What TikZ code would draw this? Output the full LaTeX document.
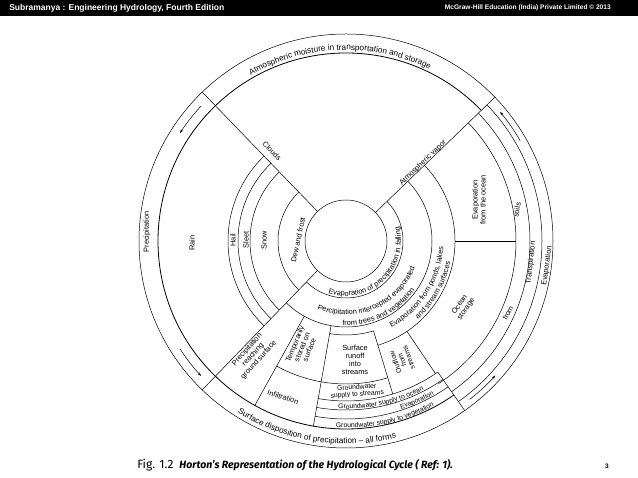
\documentclass[tikz,border=0pt]{standalone}
\usepackage{fontspec}
\setmainfont{Liberation Sans}
\newfontfamily\capfont{Fira Sans}
\usetikzlibrary{calc,decorations.text,arrows.meta}
\newcommand\fa{\fontsize{7.4}{7.8}\selectfont}
\newcommand\fb{\fontsize{6.8}{7}\selectfont}
\newcommand\fc{\fontsize{8.2}{8.5}\selectfont}
\newcommand\harc[3]{\draw ($(C)+(#2:#1)$) arc[start angle=#2,end angle=#3,radius=#1];}
\newcommand\hrad[3]{\draw ($(C)+(#1:#2)$) -- ($(C)+(#1:#3)$);}
\newcommand\ctext[5]{\path[decorate,decoration={text along path,text align=center,text={|#5|#4}}] ($(C)+(#2:#1)$) arc[start angle=#2,end angle=#3,radius=#1];}
\begin{document}
\begin{tikzpicture}[x=1pt,y=1pt,line width=0.5pt,
  lbl/.style={font=\fa,align=center,inner sep=0pt},
  arr/.style={-{Stealth[length=4pt,width=2.5pt]}}]
\useasboundingbox (0,0) rectangle (638,478);
\fill[white] (0,0) rectangle (638,478);
% header
\fill[black] (0,462) rectangle (638,478);
\node[anchor=west,text=white,font=\bfseries\fontsize{8.5}{9}\selectfont,inner sep=0pt] (h1) at (9,470) {Subramanya : Engineering Hydrology, Fourth Edition};
\node[anchor=east,text=white,font=\bfseries\fontsize{6.6}{7}\selectfont,inner sep=0pt] (h2) at (611,470) {McGraw-Hill Education (India) Private Limited © 2013};
% caption
\node[anchor=west,inner sep=0pt,font=\capfont\fontsize{12}{13}\selectfont] (cap) at (137,13) {Fig. 1.2\enspace{\bfseries\itshape\fontsize{10.5}{11}\selectfont Horton’s Representation of the Hydrological Cycle ( Ref: 1).}};
\node[font=\bfseries\fontsize{6.5}{7}\selectfont,inner sep=0pt] (pg) at (607,12) {3};
\coordinate (C) at (346,237);
% circles
\draw (C) circle[radius=207];
\draw (C) circle[radius=41];
\draw[line width=0.8pt] ($(C)+(44:188)$) arc[start angle=44,end angle=305,radius=188];
\harc{196}{305}{404}
\harc{184}{305}{404}
\harc{170}{303}{404}
% radial lines
\hrad{44}{41}{207}
\hrad{134}{41}{207}
\hrad{226}{41}{207}
\hrad{305}{160}{207}
% left arcs
\harc{68}{134}{226}
\harc{96}{134}{226}
\harc{108}{134}{226}
\harc{118}{134}{226}
% inner bands
\harc{57}{226}{404}
\harc{86}{226}{404}
\harc{94}{260}{287}
\hrad{287}{94}{109}
\harc{109}{287}{404}
\hrad{241}{86}{188}
\hrad{260}{86}{188}
\harc{143}{241}{287}
\hrad{287}{109}{160}
\hrad{304}{109}{160}
\harc{160}{260}{305}
\harc{169}{260}{305}
\harc{178}{260}{305}
\hrad{0}{109}{170}
% arrows
\draw[arr] ($(C)+(137:198)$) arc[start angle=137,end angle=147,radius=198];
\draw[arr] ($(C)+(213:198)$) arc[start angle=213,end angle=223,radius=198];
\draw[arr] ($(C)+(308:201)$) arc[start angle=308,end angle=318,radius=201];
\draw[arr] ($(C)+(30:201)$) arc[start angle=30,end angle=40,radius=201];
% curved texts
\ctext{191}{128}{56}{Atmospheric moisture in transportation and storage}{\fc}
\ctext{203}{230}{292}{Surface disposition of precipitation – all forms}{\fc}
\ctext{55}{229}{397}{Evaporation of precipitation in falling}{\fa}
\ctext{74}{226}{360}{Percipitation intercepted evaporated}{\fa}
\ctext{84.5}{254}{338}{from trees and vegetation}{\fa}
\ctext{97.5}{284}{370}{Evaporation from ponds, lakes}{\fa}
\ctext{106.5}{303}{358}{and stream surfaces}{\fa}
\ctext{168}{261}{304}{Groundwater supply to ocean}{\fb}
\ctext{177}{284}{304}{Evaporation}{\fb}
\ctext{187}{261}{304}{Groundwater supply to vegetation}{\fb}
% straight texts
\node[lbl,rotate=90] (t1) at (147,246) {Precipitation};
\node[lbl,rotate=90] (t2) at (192,235) {Rain};
\node[lbl,rotate=90] (t3) at (233,238) {Hail};
\node[lbl,rotate=90] (t4) at (246,238) {Sleet};
\node[lbl,rotate=90] (t5) at (264,238) {Snow};
\node[lbl,rotate=78] (t6) at (298,238) {Dew and frost};
\node[lbl,rotate=-46] (t7) at (272,327) {Clouds};
\node[lbl,rotate=44] (t8) at (423,315) {Atmospheric vapor};
\node[lbl,rotate=90] (t9) at (479,278) {Evaporation\\from the ocean};
\node[lbl,rotate=80] (t10) at (517,268) {soils};
\node[lbl,rotate=62] (t11) at (508,165) {from};
\node[lbl,rotate=84] (t12) at (531,215) {Transpiration};
\node[lbl,rotate=82] (t13) at (547,212) {Evaporation};
\node[lbl,rotate=55] (t14) at (463,171) {Ocean\\storage};
\node[lbl,rotate=48] (t15) at (253,123) {Precipitation\\reaching\\ground surface};
\node[lbl,rotate=68] (t16) at (302,131) {Temporarily\\stored on\\surface};
\node[lbl] (t17) at (355,118) {Surface\\runoff\\into\\streams};
\node[lbl,rotate=110,font=\fb] (t18) at (402,118) {Outflow\\from\\streams};
\node[lbl,rotate=-18] (t19) at (283,81) {Infiltration};
\node[lbl,rotate=4,font=\fb] (t20) at (357,87) {Groundwater\\supply to streams};
\end{tikzpicture}
\end{document}
